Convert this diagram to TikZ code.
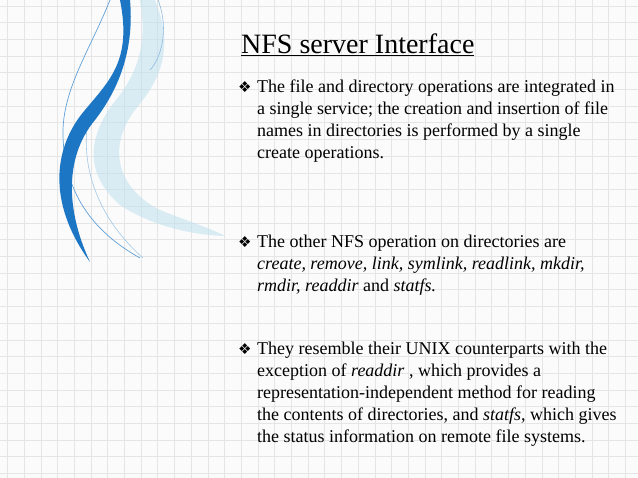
\documentclass[tikz,border=0pt]{standalone}
\usepackage{fontspec}
\setmainfont{Liberation Serif}
\newfontfamily\dejavu{DejaVu Sans}
\definecolor{dblue}{RGB}{28,118,196}
\definecolor{lblue}{RGB}{190,225,238}
\tikzset{
 line/.style={anchor=base west,inner sep=0pt,font=\fontsize{18}{21}\selectfont},
 bul/.style={anchor=base west,inner sep=0pt,font=\dejavu\fontsize{15}{17}\selectfont},
}
\begin{document}
\begin{tikzpicture}[x=1pt,y=-1pt]
\fill[white!97!gray] (0,0) rectangle (638,478);
\useasboundingbox (0,0) rectangle (638,478);
\foreach \i in {0,...,38} {\draw[black!10,line width=0.8pt] (7.5+16.7*\i,0) -- (7.5+16.7*\i,478);}
\foreach \i in {0,...,29} {\draw[black!10,line width=0.8pt] (0,6+16.7*\i) -- (638,6+16.7*\i);}
% light ribbon
\fill[lblue,opacity=0.55] (155,0) .. controls (175,50) and (160,80) .. (135,110) .. controls (105,150) and (120,190) .. (160,210) .. controls (190,222) and (210,228) .. (225,236) .. controls (190,235) and (150,225) .. (120,205) .. controls (80,170) and (90,130) .. (120,95) .. controls (145,60) and (145,30) .. (140,0) -- cycle;
% thin lines
\draw[dblue!70,line width=0.7pt] (110,0) .. controls (90,50) and (62,90) .. (63,135) .. controls (64,190) and (90,230) .. (140,258);
\draw[dblue!50,line width=0.6pt] (158,0) .. controls (170,30) and (160,60) .. (150,70);
\draw[dblue!40,line width=0.6pt] (88,120) .. controls (80,170) and (100,220) .. (143,258);
% dark ribbon
\fill[dblue] (120,0) .. controls (132,60) and (110,80) .. (85,110) .. controls (55,145) and (45,200) .. (90,262) .. controls (68,215) and (62,160) .. (95,120) .. controls (122,85) and (134,45) .. (130,0) -- cycle;
% title
\node[anchor=base west,inner sep=0pt,font=\fontsize{28}{32}\selectfont] (title) at (241,54) {\underline{NFS server Interface}};
% bullets
\node[bul] (b1) at (238,93) {❖};
\node[line] (l11) at (257,93) {The file and directory operations are integrated in};
\node[line] (l12) at (257,115) {a single service; the creation and insertion of file};
\node[line] (l13) at (257,137) {names in directories is performed by a single};
\node[line] (l14) at (257,159) {create operations.};
\node[bul] (b2) at (238,248) {❖};
\node[line] (l21) at (257,248) {The other NFS operation on directories are};
\node[line] (l22) at (257,270) {\textit{create, remove, link, symlink, readlink, mkdir,}};
\node[line] (l23) at (257,292) {\textit{rmdir, readdir} and \textit{statfs.}};
\node[bul] (b3) at (238,355) {❖};
\node[line] (l31) at (257,355) {They resemble their UNIX counterparts with the};
\node[line] (l32) at (257,377) {exception of \textit{readdir} , which provides a};
\node[line] (l33) at (257,399) {representation-independent method for reading};
\node[line] (l34) at (257,421) {the contents of directories, and \textit{statfs}, which gives};
\node[line] (l35) at (257,443) {the status information on remote file systems.};
\end{tikzpicture}
\end{document}
